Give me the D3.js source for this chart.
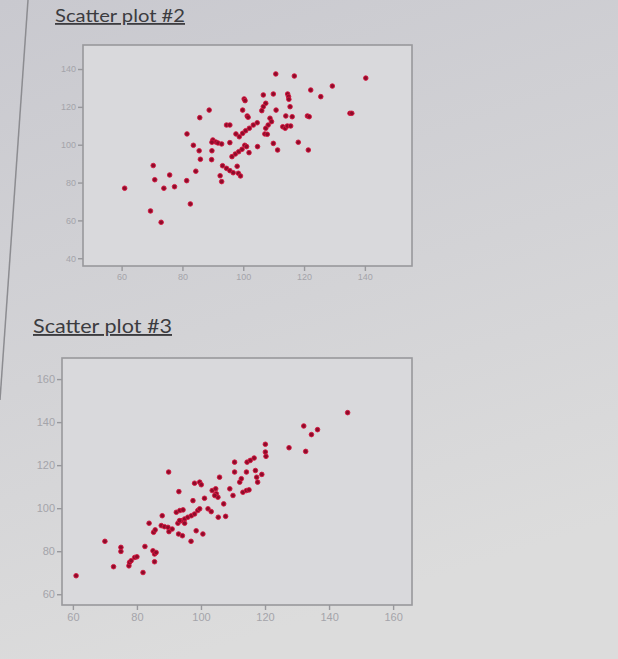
<!DOCTYPE html>
<html>
<head>
<meta charset="utf-8">
<script src="https://cdn.jsdelivr.net/npm/d3@7"></script>
<style>
  html, body { margin: 0; padding: 0; }
  body { width: 618px; height: 659px; overflow: hidden; }
</style>
</head>
<body>
<svg id="chart" width="618" height="659"></svg>
<script>
// ---- Data ----
const titles = ["Scatter plot #2", "Scatter plot #3"];

const plot2X = [61,69.5,73,70.4,70.9,73.9,75.8,77.4,81.5,81.4,82.6,83.6,84.4,85.5,85.9,85.7,88.8,89.7,89.6,90,91,89.7,91.7,92.9,93.2,94.5,95.6,96.7,92.4,92.9,95.6,94.5,95.6,98,98.4,99.1,96.3,97.4,98.5,99.6,97.6,98.7,99.8,100.5,101.1,101.9,100.3,100.6,99.8,101.3,101.6,100.8,102,103.3,104.6,104.7,106.6,107.4,106.6,106.1,108.8,109.3,108.2,107.4,107.1,107.9,109.9,110.7,110.8,109.9,111.3,114.6,114.9,115,115.4,114,116.1,113,113.8,114.5,115.6,116.8,118.1,121.1,121.7,121.4,122.2,125.5,129.3,135.1,135.7,140.3];
const plot2Y = [77,65,59,89,81.5,77,84,77.8,105.7,81,68.7,99.7,86,96.8,92.3,114.3,118.3,96.8,92.1,102.5,101.4,101.3,100.9,100.4,88.9,87.5,86.3,85.2,83.6,80.5,101.1,110.4,110.4,88.6,84.9,83.5,93.7,95.1,96.3,97.6,105.7,104.2,106,99.7,99,95.8,124.2,123.3,118.3,115.2,114.5,107.4,108.7,110.4,111.6,99,126.3,121.9,120.1,118,114,112.2,110.4,108.7,105.7,105.5,126.8,137.4,118.3,100.7,97.2,126.8,125.4,124,120.1,115.2,114.8,109.5,108.7,109.9,109.9,136.3,101.3,115.2,114.8,97.2,128.9,125.4,131,116.6,116.6,135.2];

const plot3X = [61,70,72.7,75,75,77.5,77.7,78.2,79.3,80,81.9,82.5,83.8,85,85.5,86,85.5,85.2,85.7,87.9,87.6,88.6,89.7,90,91,89.9,93.1,92.3,93.4,94.4,92.8,93.8,94.9,95.9,97,98,99,99.6,93.3,94.9,93,94.2,96.9,97.5,98,99.6,100.1,98.5,100.6,101.1,102.2,103.2,103.5,104.6,104.8,105.3,104.3,105.8,105.4,107.7,107.1,109,110.5,110.5,110,112.1,112.6,113.1,114.2,115,114.4,115.4,116.6,114.2,117,117.4,117.7,119,120.1,120.1,120.3,127.5,132.1,132.7,134.5,136.4,145.8];
const plot3Y = [68.6,84.6,72.8,81.8,79.9,73.2,74.8,75.6,77.1,77.4,70.1,82.2,93,80.2,78.7,79.4,75.1,88.8,89.9,96.5,91.9,91.4,91.1,89.1,90.3,116.8,107.7,98.1,98.9,99.2,93,94.2,95,95.8,96.5,97.3,98.9,99.7,94.2,93,88,87.2,84.6,103.5,111.6,112.1,110.9,89.5,88,104.6,99.7,98.4,108.2,109,106.7,105.1,105.9,114.4,95.8,96.2,102,109,121.4,116.8,105.9,112.1,113.7,107.4,108.2,108.5,121.4,122.2,123.3,116.8,117.5,114.4,112.1,115.7,129.7,126.1,124.1,128.1,138.2,126.4,134.2,136.5,144.4];

const plot2XTicks = [60, 80, 100, 120, 140];
const plot2YTicks = [40, 60, 80, 100, 120, 140];
const plot3XTicks = [60, 80, 100, 120, 140, 160];
const plot3YTicks = [60, 80, 100, 120, 140, 160];

// ---- Drawing ----
const svg = d3.select("#chart");
const defs = svg.append("defs");
const grad = defs.append("linearGradient").attr("id", "bg")
  .attr("x1", 0).attr("y1", 0).attr("x2", 0.3).attr("y2", 1);
grad.append("stop").attr("offset", "0%").attr("stop-color", "#c9c9cf");
grad.append("stop").attr("offset", "55%").attr("stop-color", "#d3d3d6");
grad.append("stop").attr("offset", "100%").attr("stop-color", "#dcdcdc");
svg.append("rect").attr("width", 618).attr("height", 659).attr("fill", "url(#bg)");

// page border line on the left
svg.append("line").attr("x1", 28).attr("y1", 0).attr("x2", 0).attr("y2", 400)
  .attr("stroke", "#8c8c90").attr("stroke-width", 1.5);

function drawPlot(cfg) {
  const x = d3.scaleLinear().domain(cfg.xDomain).range([cfg.left, cfg.right]);
  const y = d3.scaleLinear().domain(cfg.yDomain).range([cfg.bottom, cfg.top]);
  const g = svg.append("g");

  g.append("rect")
    .attr("x", cfg.left).attr("y", cfg.top)
    .attr("width", cfg.right - cfg.left).attr("height", cfg.bottom - cfg.top)
    .attr("fill", "#d9d9dc").attr("stroke", "#98989c").attr("stroke-width", 1.6);

  const xa = g.append("g").attr("transform", `translate(0,${cfg.bottom})`)
    .call(d3.axisBottom(x).tickValues(cfg.xTicks).tickSize(5).tickPadding(3));
  const ya = g.append("g").attr("transform", `translate(${cfg.left},0)`)
    .call(d3.axisLeft(y).tickValues(cfg.yTicks).tickSize(5).tickPadding(2));
  [xa, ya].forEach(a => {
    a.select(".domain").remove();
    a.selectAll("line").attr("stroke", "#98989c").attr("stroke-width", 1.4);
    a.selectAll("text").attr("fill", "#a4a4aa")
      .style("font-family", "'Liberation Sans', Arial, sans-serif")
      .style("font-size", cfg.fontSize + "px");
  });

  const pts = cfg.xs.map((v, i) => [v, cfg.ys[i]]);
  g.selectAll("circle.pt").data(pts).enter().append("circle")
    .attr("class", "pt")
    .attr("cx", d => x(d[0])).attr("cy", d => y(d[1]))
    .attr("r", 2.3)
    .attr("fill", "#8e0c2a")
    .attr("stroke", "#d6163f").attr("stroke-width", 0.9);

  svg.append("text")
    .attr("x", cfg.titleX).attr("y", cfg.titleY)
    .attr("fill", "#3c3c40")
    .attr("textLength", cfg.titleLen).attr("lengthAdjust", "spacingAndGlyphs")
    .style("font-family", "Lato, 'Open Sans', sans-serif")
    .style("font-size", cfg.titleSize + "px")
    .style("text-decoration", "underline")
    .text(cfg.title);
}

drawPlot({
  title: titles[0], titleX: 55, titleY: 22, titleSize: 18, titleLen: 130,
  left: 83, right: 412, top: 45, bottom: 266,
  xDomain: [47.3, 155.5], yDomain: [35.9, 152.7],
  xTicks: plot2XTicks, yTicks: plot2YTicks, fontSize: 9,
  xs: plot2X, ys: plot2Y
});

drawPlot({
  title: titles[1], titleX: 33, titleY: 333, titleSize: 19, titleLen: 139,
  left: 62, right: 412, top: 358, bottom: 605,
  xDomain: [56.6, 165.9], yDomain: [55, 169.8],
  xTicks: plot3XTicks, yTicks: plot3YTicks, fontSize: 11,
  xs: plot3X, ys: plot3Y
});
</script>
</body>
</html>
